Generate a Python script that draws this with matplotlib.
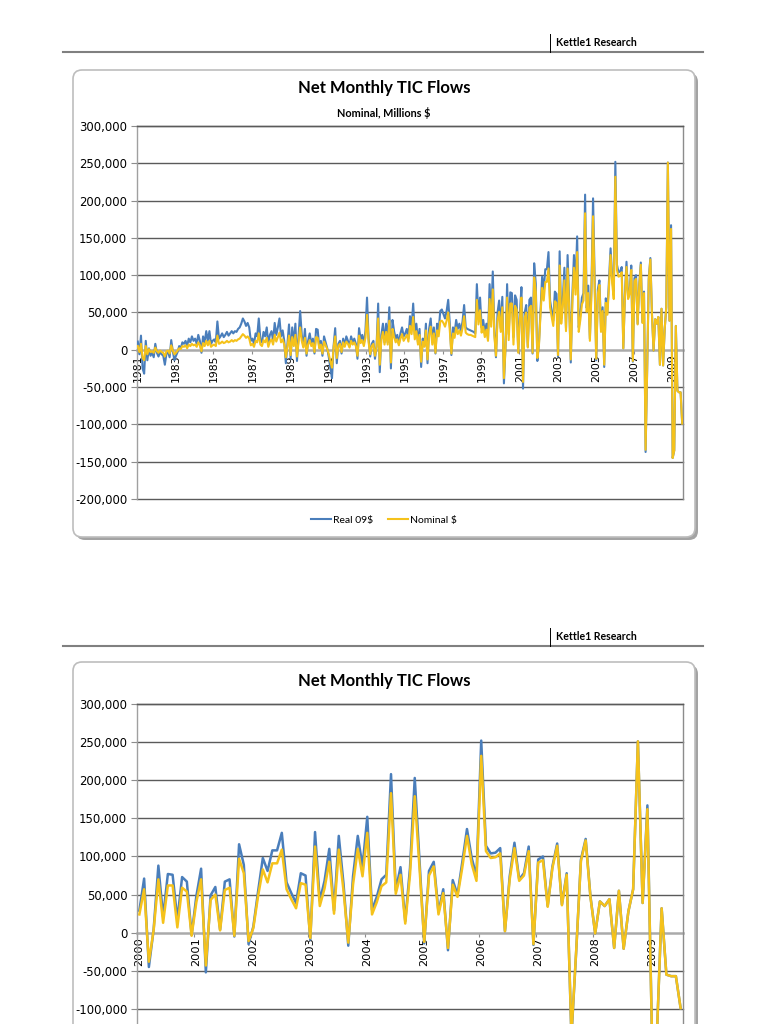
import numpy as np
import matplotlib.pyplot as plt
from matplotlib.patches import FancyBboxPatch
from matplotlib.lines import Line2D
from matplotlib.ticker import FuncFormatter

plt.rcParams['font.family'] = ['Lato', 'DejaVu Sans']

# net monthly TIC flows, thousands of millions $
# Real 09$, Jan 1981 - Dec 1999
real_81_99 = [
    11, -6, 19, -25, -32, 12, -14, 2, -8, -4, -10, 8,        # 1981
    -4, -9, -3, -6, -8, -20, -5, -3, -10, 13, -2, -14,       # 1982
    -8, -3, 5, 2, 10, 8, 12, 5, 15, 10, 18, 12,              # 1983
    15, 8, 20, 12, -4, 18, 10, 25, 12, 25, 8, 12,            # 1984
    14, 10, 38, 15, 18, 22, 17, 20, 24, 19, 22, 25,          # 1985
    22, 25, 24, 28, 30, 35, 42, 38, 32, 36, 30, 12,          # 1986
    15, 8, 22, 18, 42, 14, 10, 24, 18, 30, 8, 20,            # 1987
    25, 12, 36, 20, 30, 42, 18, 26, 12, -18, 8, 34,          # 1988
    -12, 30, 8, 35, -15, 18, 52, 20, 5, 28, -8, 12,          # 1989
    22, 8, 15, -5, 28, 27, 3, 12, -8, 18, 10, 2,             # 1990
    -10, -25, -38, 5, 29, -18, 8, 12, -5, 15, 6, 18,         # 1991
    12, 5, 18, 10, 15, 8, -12, 29, 14, 20, 8, 25,            # 1992
    70, 15, -9, 8, 12, -12, 5, 62, -30, 20, 35, 10,          # 1993
    35, 10, 57, -25, 40, 25, 15, 20, 8, 22, 30, 18,          # 1994
    22, 28, 15, 45, 30, 62, 20, 35, 10, 28, -23, 15,         # 1995
    5, 35, -18, 28, 42, 10, 30, -5, 35, 25, 52, 54,          # 1996
    48, 42, 52, 67, 35, -7, 30, 22, 40, 28, 35, 25,          # 1997
    38, 60, 30, 28, 27, 26, 25, 24, 22, 88, 45, 70,          # 1998
    30, 40, 22, 35, 15, 88, 40, 105, 25, -10, 50, 66,        # 1999
]
# Nominal $, Jan 1981 - Dec 1999
nominal_81_99 = [
    5, -3, 8, -11, -14, 5, -6, 1, -3, -2, -4, 3,
    -2, -4, -1, -3, -4, -9, -2, -1, -5, 6, -1, -6,
    -4, -1, 2, 1, 5, 4, 6, 2, 7, 5, 8, 6,
    7, 4, 10, 6, -2, 9, 5, 12, 6, 12, 4, 6,
    7, 5, 19, 8, 9, 11, 9, 10, 12, 10, 11, 13,
    11, 13, 12, 14, 15, 18, 21, 19, 16, 18, 15, 6,
    8, 4, 12, 10, 22, 7, 5, 13, 10, 16, 4, 11,
    14, 7, 20, 11, 17, 23, 10, 14, 7, -10, 4, 19,
    -7, 17, 5, 20, -9, 10, 30, 12, 3, 16, -5, 7,
    13, 5, 9, -3, 17, 16, 2, 7, -5, 11, 6, 1,
    -6, -16, -24, 3, 18, -11, 5, 8, -3, 10, 4, 11,
    8, 3, 12, 7, 10, 5, -8, 19, 9, 13, 5, 16,
    47, 10, -6, 5, 8, -8, 3, 42, -20, 14, 24, 7,
    24, 7, 39, -17, 28, 17, 10, 14, 6, 15, 21, 12,
    16, 20, 11, 32, 21, 44, 14, 25, 7, 20, -16, 11,
    4, 26, -13, 20, 31, 7, 22, -4, 26, 18, 38, 39,
    36, 31, 39, 50, 26, -5, 22, 16, 30, 21, 26, 19,
    29, 45, 23, 21, 20, 20, 19, 18, 17, 67, 34, 53,
    23, 31, 17, 27, 12, 68, 31, 81, 19, -8, 39, 51,
]
# Real 09$, Jan 2000 - Jul 2009
real_00_09 = [
    29, 71, -45, 4, 88, 21, 77, 76, 17, 73, 67, -3,          # 2000
    48, 84, -52, 49, 60, 4, 67, 70, -5, 116, 89, -15,        # 2001
    8, 54, 98, 81, 108, 108, 131, 66, 52, 39, 78, 75,        # 2002
    -9, 132, 42, 68, 110, 29, 127, 64, -17, 74, 127, 87,     # 2003
    152, 30, 47, 70, 76, 208, 56, 86, 15, 85, 203, 95,       # 2004
    -14, 81, 93, 27, 57, -23, 69, 50, 92, 136, 98, 74,       # 2005
    252, 114, 104, 105, 111, 2, 74, 118, 70, 78, 113, -16,   # 2006
    96, 100, 35, 87, 117, 37, 78, -137, -25, 96, 123, 48,    # 2007
    -1, 41, 35, 44, -20, 55, -21, 28, 57, 251, 39, 167,      # 2008
    -145, -135, 32, -55, -57, -57, -99,                      # 2009
]
# Nominal $, Jan 2000 - Jul 2009
nominal_00_09 = [
    24, 57, -38, 3, 70, 13, 62, 62, 7, 59, 54, -4,
    40, 70, -43, 43, 50, 3, 56, 59, -4, 97, 78, -11,
    6, 48, 83, 66, 91, 91, 109, 57, 44, 32, 65, 63,
    -7, 113, 35, 58, 93, 25, 109, 55, -13, 63, 110, 74,
    131, 24, 40, 61, 66, 183, 51, 76, 12, 76, 179, 85,
    -12, 75, 87, 24, 52, -20, 63, 47, 85, 127, 90, 68,
    232, 107, 98, 99, 104, 2, 70, 111, 68, 75, 107, -15,
    92, 95, 34, 85, 114, 36, 76, -134, -24, 94, 121, 47,
    -1, 41, 35, 44, -20, 55, -21, 28, 57, 251, 39, 162,
    -145, -135, 32, -55, -57, -57, -99,
]

years_long = list(range(1981, 2010, 2))
years_short = list(range(2000, 2010))
yticks = list(range(-200, 301, 50))

BLUE = '#4A7EBB'
GOLD = '#F5C21B'

fig = plt.figure(figsize=(7.68, 10.24), dpi=100)
T = fig.dpi_scale_trans


def X(px):
    return px / 100


def Y(py):
    return (1024 - py) / 100


def header(y):
    fig.add_artist(Line2D([X(63), X(703)], [Y(y), Y(y)], color='#808080', lw=1.5, transform=T))
    fig.add_artist(Line2D([X(550), X(550)], [Y(y - 18), Y(y)], color='black', lw=0.7, transform=T))
    fig.text(X(556), Y(y - 10), 'Kettle1 Research', fontsize=7.6, fontweight='bold',
             va='center', ha='left', transform=T)


def box(x0, y0, x1, y1):
    sh = FancyBboxPatch((X(x0) + 0.03, Y(y1) - 0.03), X(x1 - x0), (y1 - y0) / 100,
                        boxstyle='round,pad=0,rounding_size=0.09', transform=T,
                        fc='#a3a3a3', ec='none', zorder=-3)
    fig.add_artist(sh)
    bx = FancyBboxPatch((X(x0), Y(y1)), X(x1 - x0), (y1 - y0) / 100,
                        boxstyle='round,pad=0,rounding_size=0.09', transform=T,
                        fc='white', ec='#bdbdbd', lw=1.2, zorder=-2)
    fig.add_artist(bx)


def chart(ax, real, nominal, years, step, lw, xfs, ymin):
    n = len(real)
    x = np.arange(n)
    ticks = [v for v in yticks if v >= ymin]
    ax.spines['bottom'].set_position(('data', 0))
    ax.spines['bottom'].set_color('#aaaaaa')
    ax.spines['bottom'].set_linewidth(1.8)
    ax.spines['bottom'].set_zorder(2)
    ax.spines['top'].set_color('#5a5a5a')
    ax.spines['left'].set_color('#a0a0a0')
    ax.spines['right'].set_color('#8c8c8c')
    for s in ('top', 'left', 'right'):
        ax.spines[s].set_linewidth(1.0)
    for v in ticks:
        if v != 0:
            ax.axhline(v, color='#5a5a5a', lw=1.0, zorder=1, clip_on=False)
    ax.plot(x, real, color=BLUE, lw=lw, zorder=3, label='Real 09$')
    ax.plot(x, nominal, color=GOLD, lw=lw, zorder=4, label='Nominal $')
    ax.set_xlim(-0.5, n - 0.5)
    ax.set_yticks(ticks)
    ax.set_ylim(ymin, 300)
    ax.yaxis.set_major_formatter(FuncFormatter(lambda v, p: f'{v * 1000:,.0f}'))
    ax.tick_params(axis='y', length=4, width=0.8, color='#8c8c8c', pad=3, labelsize=8.4,
                   labelfontfamily='DejaVu Sans')
    pos = [k * step for k in range(len(years))]
    ax.set_xticks(pos)
    ax.set_xticklabels([str(y) for y in years], rotation=90, fontsize=xfs,
                       fontfamily='DejaVu Sans')
    ax.set_xticks([p - 0.5 for p in pos], minor=True)
    ax.tick_params(axis='x', which='major', length=0, pad=3.5)
    ax.tick_params(axis='x', which='minor', length=3, width=0.8, color='#8c8c8c')


# ---- top panel: 1981 - 2009
header(52)
box(73, 70, 695, 537)
fig.text(X(384), Y(88), 'Net Monthly TIC Flows', fontsize=12, fontweight='bold',
         ha='center', va='center', transform=T)
fig.text(X(384), Y(113), 'Nominal, Millions $', fontsize=7.8, fontweight='bold',
         ha='center', va='center', transform=T)
ax1 = fig.add_axes([137 / 768, 1 - 499 / 1024, 546 / 768, 373 / 1024])
chart(ax1, real_81_99 + real_00_09, nominal_81_99 + nominal_00_09, years_long, 24, 1.5, 7.8, -200)
fig.legend(*ax1.get_legend_handles_labels(), loc='center', ncol=2, frameon=False,
           fontsize=7.5, handlelength=1.9, handletextpad=0.2, columnspacing=1.4,
           bbox_to_anchor=(X(384), Y(520)), bbox_transform=T)

# ---- bottom panel: 2000 - 2009 (runs off the page)
header(646)
box(73, 662, 695, 1110)
fig.text(X(384), Y(681), 'Net Monthly TIC Flows', fontsize=12, fontweight='bold',
         ha='center', va='center', transform=T)
ax2 = fig.add_axes([137 / 768, 1 - 1028 / 1024, 546 / 768, 324 / 1024])
chart(ax2, real_00_09, nominal_00_09, years_short, 12, 1.8, 8.2, -125)

fig.savefig('out.png', dpi=100)
